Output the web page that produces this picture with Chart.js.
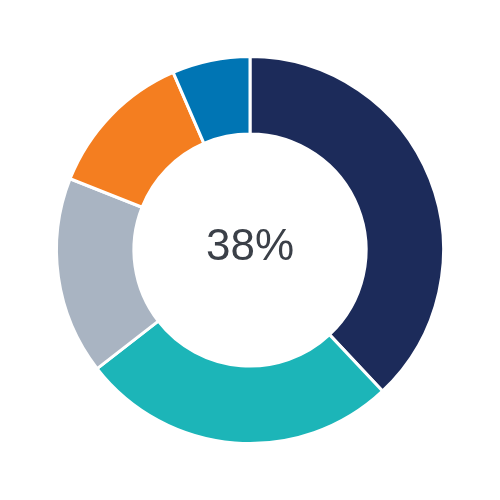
<!DOCTYPE html>
<html>
<head>
<meta charset="utf-8">
<style>
  html, body { margin: 0; padding: 0; background: #fff; }
  #wrap { width: 500px; height: 500px; }
</style>
<script src="https://cdn.jsdelivr.net/npm/chart.js@4"></script>
</head>
<body>
<div id="wrap"><canvas id="myChart"></canvas></div>
<script>
const labels = ['Navy', 'Teal', 'Gray', 'Orange', 'Blue'];
const values = [38, 26.5, 16.5, 12.5, 6.5];
const colors = ['#1c2b5a', '#1cb5b8', '#a9b4c2', '#f47e20', '#0075b4'];
const centerLabel = '38%';

const centerText = {
    id: 'centerText',
    afterDraw(chart) {
        const c = chart.ctx;
        const meta = chart.getDatasetMeta(0).data[0];
        c.save();
        c.font = '44px "Liberation Sans", Arial, sans-serif';
        c.fillStyle = '#3b4048';
        c.textAlign = 'center';
        c.textBaseline = 'middle';
        c.fillText(centerLabel, meta.x, meta.y - 2);
        c.restore();
    }
};

const ctx = document.getElementById('myChart');

new Chart(ctx, {
    type: 'doughnut',
    data: {
        labels: labels,
        datasets: [{
            data: values,
            backgroundColor: colors,
            borderColor: '#ffffff',
            borderWidth: 3
        }]
    },
    options: {
        responsive: true,
        maintainAspectRatio: false,
        animation: false,
        cutout: '60%',
        layout: { padding: 55 },
        plugins: {
            legend: { display: false },
            tooltip: { enabled: false }
        }
    },
    plugins: [centerText]
});
</script>
</body>
</html>
